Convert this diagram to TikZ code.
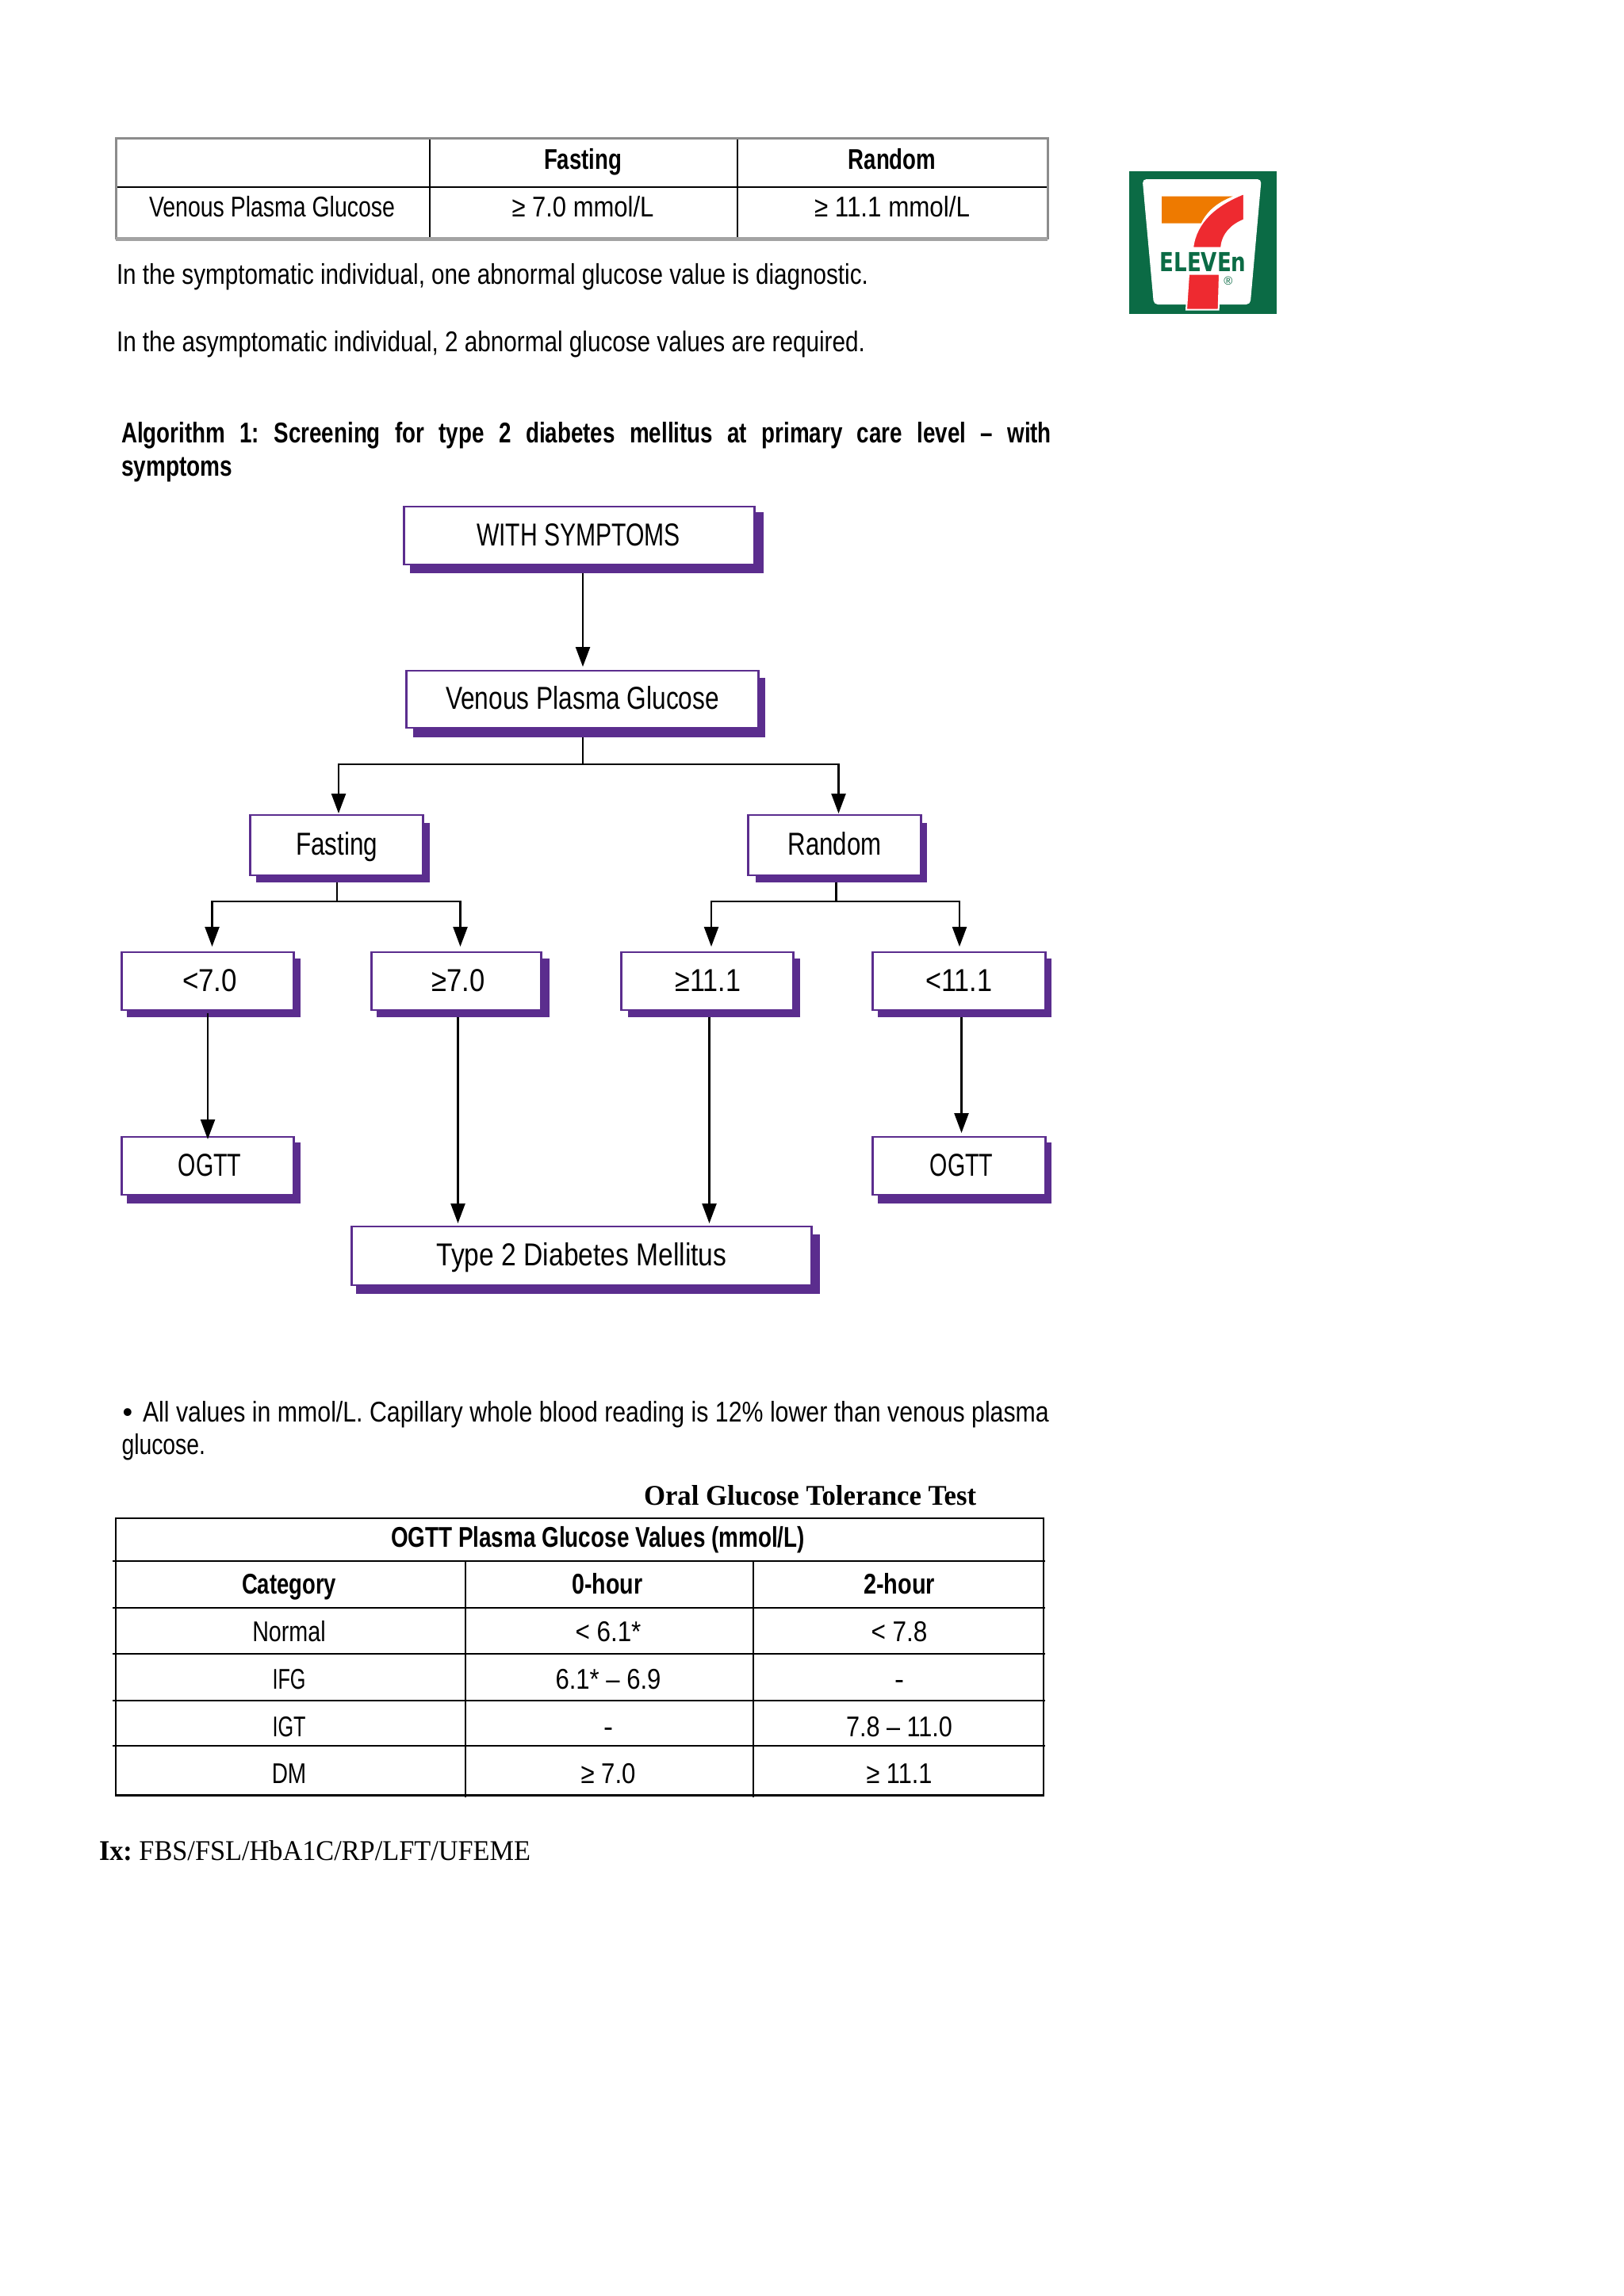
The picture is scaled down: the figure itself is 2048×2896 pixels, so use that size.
\documentclass[tikz,border=0pt]{standalone}
\usepackage{fontspec}
\usepackage{graphicx}
\usetikzlibrary{arrows.meta,calc}
\setmainfont{Liberation Sans}
\newfontfamily\tmfont{Liberation Serif}
\newfontfamily\heavyfont{DejaVu Sans}
\newcommand\tw[2]{\resizebox{\dimexpr#1pt/2\relax}{\height}{#2}}
\definecolor{boxpurple}{HTML}{5B2D8E}
\definecolor{tabgray}{HTML}{8C8C8C}
\definecolor{logogreen}{HTML}{0B6B45}
\definecolor{logored}{HTML}{EE2A30}
\definecolor{logoorange}{HTML}{EE7A00}
\tikzset{
  lbl/.style={anchor=base,inner sep=0pt,outer sep=0pt,font=\frenchspacing\fontsize{18}{20}\selectfont},
  lblw/.style={lbl,anchor=base west},
  flow/.style={draw=boxpurple,line width=1.1pt,fill=white,inner sep=0pt,outer sep=0pt,
    font=\fontsize{20}{22}\selectfont,text height=13.5pt,text depth=1pt},
  shad/.style={fill=boxpurple,inner sep=0pt,outer sep=0pt},
  conn/.style={line width=1.2pt,black},
  arr/.style={conn,-{Triangle[length=12.5pt,width=9pt]}},
  blackrule/.style={line width=1.4pt,black},
  thinrule/.style={line width=1pt,black},
  grayrule/.style={line width=1.5pt,tabgray},
}
\begin{document}
\begin{tikzpicture}[x=0.5pt,y=-0.5pt]
\useasboundingbox[fill=white] (0,0) rectangle (2048,2896);

% ---------- top table
\draw[thinrule] (542,174) -- (542,303) (930,174) -- (930,303);
\draw[blackrule] (146,236) -- (1321,236);
\draw[grayrule] (146,302) -- (146,174) -- (1321,174) -- (1321,302);
\draw[line width=2.4pt,tabgray!80] (146,301.5) -- (1321,301.5);
\node[lbl] (t1a) at (735,213) {\tw{98}{\textbf{Fasting}}};
\node[lbl] (t1b) at (1125,213) {\tw{110.5}{\textbf{Random}}};
\node[lbl] (t1c) at (343,273) {\tw{310}{Venous Plasma Glucose}};
\node[lbl] (t1d) at (735,273) {\tw{179}{≥ 7.0 mmol/L}};
\node[lbl] (t1e) at (1125,273) {\tw{196}{≥ 11.1 mmol/L}};

\node[lblw] (p1) at (147,358) {\tw{948}{In the symptomatic individual, one abnormal glucose value is diagnostic.}};
\node[lblw] (p2) at (147,443) {\tw{944}{In the asymptomatic individual, 2 abnormal glucose values are required.}};
\node[lblw] (h1) at (153,558) {\tw{1173}{\makebox[760pt][s]{\textbf{Algorithm 1: Screening for type 2 diabetes mellitus at primary care level – with}}}};
\node[lblw] (h2) at (153,600) {\tw{140}{\textbf{symptoms}}};

% ---------- flowchart shadows
\node[shad,minimum width=223pt,minimum height=38.5pt] (withS) at (740,684.5) {};
\node[shad,minimum width=222pt,minimum height=37.5pt] (venS) at (743,892.5) {};
\node[shad,minimum width=109.5pt,minimum height=37.5pt] (fastS) at (432.5,1075.5) {};
\node[shad,minimum width=108pt,minimum height=37.5pt] (randS) at (1061,1075.5) {};
\node[shad,minimum width=109.5pt,minimum height=37pt] (ltsevS) at (269.5,1246) {};
\node[shad,minimum width=109pt,minimum height=37pt] (gesevS) at (584,1246) {};
\node[shad,minimum width=108.5pt,minimum height=37pt] (geelS) at (900.5,1246) {};
\node[shad,minimum width=109.5pt,minimum height=37pt] (ltelS) at (1216.5,1246) {};
\node[shad,minimum width=109.5pt,minimum height=38.5pt] (ogaS) at (269.5,1479.5) {};
\node[shad,minimum width=109.5pt,minimum height=38.5pt] (ogbS) at (1216.5,1479.5) {};
\node[shad,minimum width=292.5pt,minimum height=37.5pt] (dmS) at (741.5,1594.5) {};

% ---------- flowchart boxes
\node[flow,minimum width=221pt,minimum height=36.5pt] (with) at (730.5,675.5) {\tw{257}{WITH SYMPTOMS}\kern1pt};
\node[flow,minimum width=222pt,minimum height=36pt] (ven) at (734.5,882) {\tw{345}{Venous Plasma Glucose}};
\node[flow,minimum width=109pt,minimum height=38pt] (fast) at (424.5,1066) {\tw{103}{Fasting}};
\node[flow,minimum width=109pt,minimum height=38pt] (rand) at (1052.5,1066) {\tw{118}{Random}};
\node[flow,minimum width=108.5pt,minimum height=36.5pt] (ltsev) at (262,1237.5) {\kern2.5pt\tw{69}{<7.0}};
\node[flow,minimum width=107pt,minimum height=36.5pt] (gesev) at (575.5,1237.5) {\kern2.5pt\tw{67}{≥7.0}};
\node[flow,minimum width=108.5pt,minimum height=36.5pt] (geel) at (892,1237.5) {\kern1pt\tw{82.5}{≥11.1}};
\node[flow,minimum width=109pt,minimum height=36.5pt] (ltel) at (1209.5,1237.5) {\tw{84}{<11.1}};
\node[flow,minimum width=108.5pt,minimum height=36.5pt] (oga) at (262,1470.5) {\kern2.5pt\tw{79.5}{OGTT}};
\node[flow,minimum width=109pt,minimum height=36.5pt] (ogb) at (1209.5,1470.5) {\kern3pt\tw{79.5}{OGTT}};
\node[flow,minimum width=290pt,minimum height=37pt] (dm) at (733.5,1584) {\tw{366}{Type 2 Diabetes Mellitus}};

% ---------- connectors
\coordinate (j1) at (735,964);
\coordinate (j2) at (425,1137);
\coordinate (j3) at (1054.5,1137);
\draw[arr] ($(withS.south)+(-5,0)$) -- ($(ven.north)+(0.5,-5)$);
\draw[conn] ($(venS.south)+(-8,0)$) -- (j1);
\draw[arr] (j1) -| ($(fast.north)+(2.5,-2)$);
\draw[arr] (j1) -| ($(rand.north)+(5,-2)$);
\draw[conn] ($(fastS.south)+(-7.5,0)$) -- (j2);
\draw[arr] (j2) -| ($(ltsev.north)+(5.5,-7)$);
\draw[arr] (j2) -| ($(gesev.north)+(5,-7)$);
\draw[conn] ($(randS.south)+(-6.5,0)$) -- (j3);
\draw[arr] (j3) -| ($(geel.north)+(5,-7)$);
\draw[arr] (j3) -| ($(ltel.north)+(0.5,-7)$);
\draw[arr] ($(ltsev.south)+(0,4)$) -- ($(oga.north)+(0,3)$);
\draw[arr] ($(gesev.south)+(2,9)$) -- ($(dm.north)+(-156,-4)$);
\draw[arr] ($(geel.south)+(2.5,9)$) -- ($(dm.north)+(161,-4)$);
\draw[arr] ($(ltel.south)+(3,9)$) -- ($(ogb.north)+(3,-5)$);

% ---------- note
\node[lbl] (bul) at (161,1793) {•};
\node[lblw] (n1) at (180,1793) {\tw{1143}{All values in mmol/L. Capillary whole blood reading is 12\% lower than venous plasma}};
\node[lblw] (n2) at (153.5,1834) {\tw{105.5}{glucose.}};
\node[lblw] (oral) at (812,1898) {\tw{419}{\tmfont\bfseries Oral Glucose Tolerance Test}};

% ---------- OGTT table
\draw[thinrule] (587,1969) -- (587,2267) (950,1969) -- (950,2267);
\draw[blackrule] (146,1915) rectangle (1316,2264.5);
\draw[blackrule] (142,1969) -- (1318,1969) (142,2028) -- (1318,2028) (142,2086) -- (1318,2086)
  (142,2145) -- (1318,2145) (142,2202) -- (1318,2202);
\node[lbl] (o0) at (754,1951) {\tw{522}{\textbf{OGTT Plasma Glucose Values (mmol/L)}}};
\node[lbl] (oa1) at (364.5,2010) {\tw{119}{\textbf{Category}}};
\node[lbl] (ob1) at (766,2010) {\tw{89}{\textbf{0-hour}}};
\node[lbl] (oc1) at (1134,2010) {\tw{90}{\textbf{2-hour}}};
\node[lbl] (oa2) at (364.5,2070) {\tw{92.5}{Normal}};
\node[lbl] (ob2) at (767,2070) {\tw{83}{< 6.1*}};
\node[lbl] (oc2) at (1134,2070) {\tw{71}{< 7.8}};
\node[lbl] (oa3) at (364.5,2130) {\tw{42}{IFG}};
\node[lbl] (ob3) at (767,2130) {\tw{133}{6.1* – 6.9}};
\node[lbl] (oc3) at (1134,2130) {-};
\node[lbl] (oa4) at (364.5,2190) {\tw{42}{IGT}};
\node[lbl] (ob4) at (767,2190) {-};
\node[lbl] (oc4) at (1134,2190) {\tw{134}{7.8 – 11.0}};
\node[lbl] (oa5) at (364.5,2249) {\tw{43.5}{DM}};
\node[lbl] (ob5) at (767,2249) {\tw{69}{≥ 7.0}};
\node[lbl] (oc5) at (1134,2249) {\tw{83}{≥ 11.1}};

\node[lblw] (ix) at (125,2346) {\tw{544}{\tmfont\textbf{Ix:} FBS/FSL/HbA1C/RP/LFT/UFEME}};

% ---------- logo
\begin{scope}[shift={(1380,190)},x=0.16667pt,y=-0.16667pt]
  \fill[logogreen] (131,78) rectangle (690,618);
  \fill[white,rounded corners=2.5pt] (182,108) -- (632,108) -- (590,582) -- (225,582) -- cycle;
  \fill[logoorange] (255,173) -- (524,173) .. controls (465,195) and (425,230) .. (404,275) -- (255,275) -- cycle;
  \filldraw[fill=logored,draw=white,line width=0.8pt]
    (566,163) -- (566,262) .. controls (520,280) and (484,315) .. (480,367) -- (373,367)
    .. controls (385,270) and (460,205) .. cycle;
  \filldraw[fill=logored,draw=white,line width=1pt] (357,467) -- (474,467) -- (470,602) -- (348,602) -- cycle;
  \node[lbl,text=logogreen,font=\fontsize{16.5}{18}\selectfont\heavyfont\bfseries] (elev) at (411,458) {\tw{109}{ELEVEn}};
  \node[inner sep=0pt,text=logogreen,font=\fontsize{7.5}{8}\selectfont] (reg) at (507,492) {®};
\end{scope}
\end{tikzpicture}
\end{document}
